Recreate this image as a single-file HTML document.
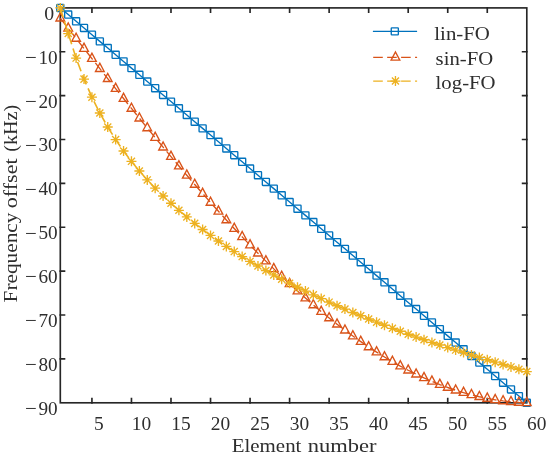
<!DOCTYPE html><html><head><meta charset="utf-8"><title>Frequency offset</title><style>html,body{margin:0;padding:0;background:#fff}</style></head><body><svg width="550" height="457" viewBox="0 0 550 457" style="display:block">
<rect width="550" height="457" fill="#fff"/>
<g stroke="#262626" stroke-width="1.65" fill="none" stroke-linecap="square">
<rect x="60.3" y="7.9" width="466.50" height="394.90"/>
<path d="M91.93 402.8v-4.2M91.93 7.9v4.2"/>
<path d="M131.46 402.8v-4.2M131.46 7.9v4.2"/>
<path d="M170.99 402.8v-4.2M170.99 7.9v4.2"/>
<path d="M210.53 402.8v-4.2M210.53 7.9v4.2"/>
<path d="M250.06 402.8v-4.2M250.06 7.9v4.2"/>
<path d="M289.60 402.8v-4.2M289.60 7.9v4.2"/>
<path d="M329.13 402.8v-4.2M329.13 7.9v4.2"/>
<path d="M368.66 402.8v-4.2M368.66 7.9v4.2"/>
<path d="M408.20 402.8v-4.2M408.20 7.9v4.2"/>
<path d="M447.73 402.8v-4.2M447.73 7.9v4.2"/>
<path d="M487.27 402.8v-4.2M487.27 7.9v4.2"/>
<path d="M60.3 358.92h4.2M526.8 358.92h-4.2"/>
<path d="M60.3 315.04h4.2M526.8 315.04h-4.2"/>
<path d="M60.3 271.17h4.2M526.8 271.17h-4.2"/>
<path d="M60.3 227.29h4.2M526.8 227.29h-4.2"/>
<path d="M60.3 183.41h4.2M526.8 183.41h-4.2"/>
<path d="M60.3 139.53h4.2M526.8 139.53h-4.2"/>
<path d="M60.3 95.66h4.2M526.8 95.66h-4.2"/>
<path d="M60.3 51.78h4.2M526.8 51.78h-4.2"/>
</g>
<g stroke="#0072BD" stroke-width="1.35" fill="none" stroke-linejoin="round">
<polyline points="60.30,7.90 68.21,14.59 76.11,21.29 84.02,27.98 91.93,34.67 99.83,41.37 107.74,48.06 115.65,54.75 123.55,61.45 131.46,68.14 139.37,74.83 147.27,81.53 155.18,88.22 163.09,94.91 170.99,101.61 178.90,108.30 186.81,114.99 194.72,121.68 202.62,128.38 210.53,135.07 218.44,141.76 226.34,148.46 234.25,155.15 242.16,161.84 250.06,168.54 257.97,175.23 265.88,181.92 273.78,188.62 281.69,195.31 289.60,202.00 297.50,208.70 305.41,215.39 313.32,222.08 321.22,228.78 329.13,235.47 337.04,242.16 344.94,248.86 352.85,255.55 360.76,262.24 368.66,268.94 376.57,275.63 384.48,282.32 392.38,289.02 400.29,295.71 408.20,302.40 416.11,309.09 424.01,315.79 431.92,322.48 439.83,329.17 447.73,335.87 455.64,342.56 463.55,349.25 471.45,355.95 479.36,362.64 487.27,369.33 495.17,376.03 503.08,382.72 510.99,389.41 518.89,396.11 526.80,402.80" stroke-width="1.35"/>
<g stroke-width="1.35" stroke-linejoin="miter">
<rect x="56.75" y="4.35" width="7.1" height="7.1" rx="0.6"/>
<rect x="64.66" y="11.04" width="7.1" height="7.1" rx="0.6"/>
<rect x="72.56" y="17.74" width="7.1" height="7.1" rx="0.6"/>
<rect x="80.47" y="24.43" width="7.1" height="7.1" rx="0.6"/>
<rect x="88.38" y="31.12" width="7.1" height="7.1" rx="0.6"/>
<rect x="96.28" y="37.82" width="7.1" height="7.1" rx="0.6"/>
<rect x="104.19" y="44.51" width="7.1" height="7.1" rx="0.6"/>
<rect x="112.10" y="51.20" width="7.1" height="7.1" rx="0.6"/>
<rect x="120.00" y="57.90" width="7.1" height="7.1" rx="0.6"/>
<rect x="127.91" y="64.59" width="7.1" height="7.1" rx="0.6"/>
<rect x="135.82" y="71.28" width="7.1" height="7.1" rx="0.6"/>
<rect x="143.72" y="77.98" width="7.1" height="7.1" rx="0.6"/>
<rect x="151.63" y="84.67" width="7.1" height="7.1" rx="0.6"/>
<rect x="159.54" y="91.36" width="7.1" height="7.1" rx="0.6"/>
<rect x="167.44" y="98.06" width="7.1" height="7.1" rx="0.6"/>
<rect x="175.35" y="104.75" width="7.1" height="7.1" rx="0.6"/>
<rect x="183.26" y="111.44" width="7.1" height="7.1" rx="0.6"/>
<rect x="191.17" y="118.13" width="7.1" height="7.1" rx="0.6"/>
<rect x="199.07" y="124.83" width="7.1" height="7.1" rx="0.6"/>
<rect x="206.98" y="131.52" width="7.1" height="7.1" rx="0.6"/>
<rect x="214.89" y="138.21" width="7.1" height="7.1" rx="0.6"/>
<rect x="222.79" y="144.91" width="7.1" height="7.1" rx="0.6"/>
<rect x="230.70" y="151.60" width="7.1" height="7.1" rx="0.6"/>
<rect x="238.61" y="158.29" width="7.1" height="7.1" rx="0.6"/>
<rect x="246.51" y="164.99" width="7.1" height="7.1" rx="0.6"/>
<rect x="254.42" y="171.68" width="7.1" height="7.1" rx="0.6"/>
<rect x="262.33" y="178.37" width="7.1" height="7.1" rx="0.6"/>
<rect x="270.23" y="185.07" width="7.1" height="7.1" rx="0.6"/>
<rect x="278.14" y="191.76" width="7.1" height="7.1" rx="0.6"/>
<rect x="286.05" y="198.45" width="7.1" height="7.1" rx="0.6"/>
<rect x="293.95" y="205.15" width="7.1" height="7.1" rx="0.6"/>
<rect x="301.86" y="211.84" width="7.1" height="7.1" rx="0.6"/>
<rect x="309.77" y="218.53" width="7.1" height="7.1" rx="0.6"/>
<rect x="317.67" y="225.23" width="7.1" height="7.1" rx="0.6"/>
<rect x="325.58" y="231.92" width="7.1" height="7.1" rx="0.6"/>
<rect x="333.49" y="238.61" width="7.1" height="7.1" rx="0.6"/>
<rect x="341.39" y="245.31" width="7.1" height="7.1" rx="0.6"/>
<rect x="349.30" y="252.00" width="7.1" height="7.1" rx="0.6"/>
<rect x="357.21" y="258.69" width="7.1" height="7.1" rx="0.6"/>
<rect x="365.11" y="265.39" width="7.1" height="7.1" rx="0.6"/>
<rect x="373.02" y="272.08" width="7.1" height="7.1" rx="0.6"/>
<rect x="380.93" y="278.77" width="7.1" height="7.1" rx="0.6"/>
<rect x="388.83" y="285.47" width="7.1" height="7.1" rx="0.6"/>
<rect x="396.74" y="292.16" width="7.1" height="7.1" rx="0.6"/>
<rect x="404.65" y="298.85" width="7.1" height="7.1" rx="0.6"/>
<rect x="412.56" y="305.54" width="7.1" height="7.1" rx="0.6"/>
<rect x="420.46" y="312.24" width="7.1" height="7.1" rx="0.6"/>
<rect x="428.37" y="318.93" width="7.1" height="7.1" rx="0.6"/>
<rect x="436.28" y="325.62" width="7.1" height="7.1" rx="0.6"/>
<rect x="444.18" y="332.32" width="7.1" height="7.1" rx="0.6"/>
<rect x="452.09" y="339.01" width="7.1" height="7.1" rx="0.6"/>
<rect x="460.00" y="345.70" width="7.1" height="7.1" rx="0.6"/>
<rect x="467.90" y="352.40" width="7.1" height="7.1" rx="0.6"/>
<rect x="475.81" y="359.09" width="7.1" height="7.1" rx="0.6"/>
<rect x="483.72" y="365.78" width="7.1" height="7.1" rx="0.6"/>
<rect x="491.62" y="372.48" width="7.1" height="7.1" rx="0.6"/>
<rect x="499.53" y="379.17" width="7.1" height="7.1" rx="0.6"/>
<rect x="507.44" y="385.86" width="7.1" height="7.1" rx="0.6"/>
<rect x="515.34" y="392.56" width="7.1" height="7.1" rx="0.6"/>
<rect x="523.25" y="399.25" width="7.1" height="7.1" rx="0.6"/>
</g></g>
<g stroke="#D95319" stroke-width="1.35" fill="none" stroke-linejoin="round">
<polyline points="60.30,18.24 68.21,28.35 76.11,38.45 84.02,48.54 91.93,58.61 99.83,68.65 107.74,78.66 115.65,88.63 123.55,98.54 131.46,108.41 139.37,118.20 147.27,127.93 155.18,137.59 163.09,147.16 170.99,156.64 178.90,166.02 186.81,175.31 194.72,184.48 202.62,193.54 210.53,202.48 218.44,211.29 226.34,219.96 234.25,228.50 242.16,236.89 250.06,245.12 257.97,253.20 265.88,261.12 273.78,268.87 281.69,276.45 289.60,283.85 297.50,291.06 305.41,298.09 313.32,304.92 321.22,311.55 329.13,317.98 337.04,324.20 344.94,330.22 352.85,336.01 360.76,341.59 368.66,346.94 376.57,352.07 384.48,356.97 392.38,361.63 400.29,366.06 408.20,370.24 416.11,374.19 424.01,377.89 431.92,381.34 439.83,384.54 447.73,387.49 455.64,390.19 463.55,392.63 471.45,394.81 479.36,396.74 487.27,398.40 495.17,399.80 503.08,400.95 510.99,401.83 518.89,402.45 526.80,402.80" stroke-dasharray="9.8 4.4" stroke-width="1.35"/>
<g stroke-width="1.35" stroke-linejoin="miter">
<path d="M55.95 21.04h8.7l-4.35 -8.15z"/>
<path d="M63.86 31.15h8.7l-4.35 -8.15z"/>
<path d="M71.76 41.25h8.7l-4.35 -8.15z"/>
<path d="M79.67 51.34h8.7l-4.35 -8.15z"/>
<path d="M87.58 61.41h8.7l-4.35 -8.15z"/>
<path d="M95.48 71.45h8.7l-4.35 -8.15z"/>
<path d="M103.39 81.46h8.7l-4.35 -8.15z"/>
<path d="M111.30 91.43h8.7l-4.35 -8.15z"/>
<path d="M119.20 101.34h8.7l-4.35 -8.15z"/>
<path d="M127.11 111.21h8.7l-4.35 -8.15z"/>
<path d="M135.02 121.00h8.7l-4.35 -8.15z"/>
<path d="M142.92 130.73h8.7l-4.35 -8.15z"/>
<path d="M150.83 140.39h8.7l-4.35 -8.15z"/>
<path d="M158.74 149.96h8.7l-4.35 -8.15z"/>
<path d="M166.64 159.44h8.7l-4.35 -8.15z"/>
<path d="M174.55 168.82h8.7l-4.35 -8.15z"/>
<path d="M182.46 178.11h8.7l-4.35 -8.15z"/>
<path d="M190.37 187.28h8.7l-4.35 -8.15z"/>
<path d="M198.27 196.34h8.7l-4.35 -8.15z"/>
<path d="M206.18 205.28h8.7l-4.35 -8.15z"/>
<path d="M214.09 214.09h8.7l-4.35 -8.15z"/>
<path d="M221.99 222.76h8.7l-4.35 -8.15z"/>
<path d="M229.90 231.30h8.7l-4.35 -8.15z"/>
<path d="M237.81 239.69h8.7l-4.35 -8.15z"/>
<path d="M245.71 247.92h8.7l-4.35 -8.15z"/>
<path d="M253.62 256.00h8.7l-4.35 -8.15z"/>
<path d="M261.53 263.92h8.7l-4.35 -8.15z"/>
<path d="M269.43 271.67h8.7l-4.35 -8.15z"/>
<path d="M277.34 279.25h8.7l-4.35 -8.15z"/>
<path d="M285.25 286.65h8.7l-4.35 -8.15z"/>
<path d="M293.15 293.86h8.7l-4.35 -8.15z"/>
<path d="M301.06 300.89h8.7l-4.35 -8.15z"/>
<path d="M308.97 307.72h8.7l-4.35 -8.15z"/>
<path d="M316.87 314.35h8.7l-4.35 -8.15z"/>
<path d="M324.78 320.78h8.7l-4.35 -8.15z"/>
<path d="M332.69 327.00h8.7l-4.35 -8.15z"/>
<path d="M340.59 333.02h8.7l-4.35 -8.15z"/>
<path d="M348.50 338.81h8.7l-4.35 -8.15z"/>
<path d="M356.41 344.39h8.7l-4.35 -8.15z"/>
<path d="M364.31 349.74h8.7l-4.35 -8.15z"/>
<path d="M372.22 354.87h8.7l-4.35 -8.15z"/>
<path d="M380.13 359.77h8.7l-4.35 -8.15z"/>
<path d="M388.03 364.43h8.7l-4.35 -8.15z"/>
<path d="M395.94 368.86h8.7l-4.35 -8.15z"/>
<path d="M403.85 373.04h8.7l-4.35 -8.15z"/>
<path d="M411.76 376.99h8.7l-4.35 -8.15z"/>
<path d="M419.66 380.69h8.7l-4.35 -8.15z"/>
<path d="M427.57 384.14h8.7l-4.35 -8.15z"/>
<path d="M435.48 387.34h8.7l-4.35 -8.15z"/>
<path d="M443.38 390.29h8.7l-4.35 -8.15z"/>
<path d="M451.29 392.99h8.7l-4.35 -8.15z"/>
<path d="M459.20 395.43h8.7l-4.35 -8.15z"/>
<path d="M467.10 397.61h8.7l-4.35 -8.15z"/>
<path d="M475.01 399.54h8.7l-4.35 -8.15z"/>
<path d="M482.92 401.20h8.7l-4.35 -8.15z"/>
<path d="M490.82 402.60h8.7l-4.35 -8.15z"/>
<path d="M498.73 403.75h8.7l-4.35 -8.15z"/>
<path d="M506.64 404.63h8.7l-4.35 -8.15z"/>
<path d="M514.54 405.25h8.7l-4.35 -8.15z"/>
<path d="M522.45 405.60h8.7l-4.35 -8.15z"/>
</g></g>
<g stroke="#EDB120" stroke-width="1.35" fill="none" stroke-linejoin="round">
<polyline points="60.30,7.90 68.21,33.57 76.11,58.10 84.02,79.11 91.93,97.19 99.83,113.03 107.74,126.98 115.65,139.58 123.55,150.99 131.46,161.34 139.37,170.95 147.27,179.90 155.18,188.19 163.09,196.00 170.99,203.29 178.90,210.31 186.81,216.93 194.72,223.38 202.62,229.48 210.53,235.41 218.44,241.02 226.34,246.42 234.25,251.60 242.16,256.60 250.06,261.43 257.97,266.03 265.88,270.55 273.78,274.90 281.69,279.15 289.60,283.19 297.50,287.23 305.41,291.09 313.32,294.86 321.22,298.55 329.13,302.14 337.04,305.70 344.94,309.12 352.85,312.46 360.76,315.75 368.66,318.99 376.57,322.15 384.48,325.27 392.38,328.30 400.29,331.28 408.20,334.22 416.11,337.07 424.01,339.79 431.92,342.42 439.83,345.01 447.73,347.60 455.64,350.10 463.55,352.60 471.45,355.02 479.36,357.43 487.27,359.76 495.17,362.13 503.08,364.49 510.99,366.91 518.89,369.23 526.80,371.56" stroke-dasharray="9.8 4.4" stroke-width="1.6"/>
<g stroke-width="1.35" stroke-linejoin="miter">
<path d="M55.30 7.90h10.0M60.30 2.90v10.0M56.76 4.36l7.07 7.07M56.76 11.44l7.07 -7.07"/>
<path d="M63.21 33.57h10.0M68.21 28.57v10.0M64.67 30.03l7.07 7.07M64.67 37.10l7.07 -7.07"/>
<path d="M71.11 58.10h10.0M76.11 53.10v10.0M72.58 54.56l7.07 7.07M72.58 61.63l7.07 -7.07"/>
<path d="M79.02 79.11h10.0M84.02 74.11v10.0M80.48 75.58l7.07 7.07M80.48 82.65l7.07 -7.07"/>
<path d="M86.93 97.19h10.0M91.93 92.19v10.0M88.39 93.66l7.07 7.07M88.39 100.73l7.07 -7.07"/>
<path d="M94.83 113.03h10.0M99.83 108.03v10.0M96.30 109.50l7.07 7.07M96.30 116.57l7.07 -7.07"/>
<path d="M102.74 126.98h10.0M107.74 121.98v10.0M104.21 123.45l7.07 7.07M104.21 130.52l7.07 -7.07"/>
<path d="M110.65 139.58h10.0M115.65 134.58v10.0M112.11 136.04l7.07 7.07M112.11 143.11l7.07 -7.07"/>
<path d="M118.55 150.99h10.0M123.55 145.99v10.0M120.02 147.45l7.07 7.07M120.02 154.52l7.07 -7.07"/>
<path d="M126.46 161.34h10.0M131.46 156.34v10.0M127.93 157.81l7.07 7.07M127.93 164.88l7.07 -7.07"/>
<path d="M134.37 170.95h10.0M139.37 165.95v10.0M135.83 167.41l7.07 7.07M135.83 174.49l7.07 -7.07"/>
<path d="M142.27 179.90h10.0M147.27 174.90v10.0M143.74 176.37l7.07 7.07M143.74 183.44l7.07 -7.07"/>
<path d="M150.18 188.19h10.0M155.18 183.19v10.0M151.65 184.66l7.07 7.07M151.65 191.73l7.07 -7.07"/>
<path d="M158.09 196.00h10.0M163.09 191.00v10.0M159.55 192.47l7.07 7.07M159.55 199.54l7.07 -7.07"/>
<path d="M165.99 203.29h10.0M170.99 198.29v10.0M167.46 199.75l7.07 7.07M167.46 206.82l7.07 -7.07"/>
<path d="M173.90 210.31h10.0M178.90 205.31v10.0M175.37 206.77l7.07 7.07M175.37 213.84l7.07 -7.07"/>
<path d="M181.81 216.93h10.0M186.81 211.93v10.0M183.27 213.40l7.07 7.07M183.27 220.47l7.07 -7.07"/>
<path d="M189.72 223.38h10.0M194.72 218.38v10.0M191.18 219.85l7.07 7.07M191.18 226.92l7.07 -7.07"/>
<path d="M197.62 229.48h10.0M202.62 224.48v10.0M199.09 225.95l7.07 7.07M199.09 233.02l7.07 -7.07"/>
<path d="M205.53 235.41h10.0M210.53 230.41v10.0M206.99 231.87l7.07 7.07M206.99 238.94l7.07 -7.07"/>
<path d="M213.44 241.02h10.0M218.44 236.02v10.0M214.90 237.49l7.07 7.07M214.90 244.56l7.07 -7.07"/>
<path d="M221.34 246.42h10.0M226.34 241.42v10.0M222.81 242.88l7.07 7.07M222.81 249.96l7.07 -7.07"/>
<path d="M229.25 251.60h10.0M234.25 246.60v10.0M230.71 248.06l7.07 7.07M230.71 255.13l7.07 -7.07"/>
<path d="M237.16 256.60h10.0M242.16 251.60v10.0M238.62 253.06l7.07 7.07M238.62 260.13l7.07 -7.07"/>
<path d="M245.06 261.43h10.0M250.06 256.43v10.0M246.53 257.89l7.07 7.07M246.53 264.96l7.07 -7.07"/>
<path d="M252.97 266.03h10.0M257.97 261.03v10.0M254.43 262.50l7.07 7.07M254.43 269.57l7.07 -7.07"/>
<path d="M260.88 270.55h10.0M265.88 265.55v10.0M262.34 267.02l7.07 7.07M262.34 274.09l7.07 -7.07"/>
<path d="M268.78 274.90h10.0M273.78 269.90v10.0M270.25 271.36l7.07 7.07M270.25 278.43l7.07 -7.07"/>
<path d="M276.69 279.15h10.0M281.69 274.15v10.0M278.15 275.62l7.07 7.07M278.15 282.69l7.07 -7.07"/>
<path d="M284.60 283.19h10.0M289.60 278.19v10.0M286.06 279.65l7.07 7.07M286.06 286.72l7.07 -7.07"/>
<path d="M292.50 287.23h10.0M297.50 282.23v10.0M293.97 283.69l7.07 7.07M293.97 290.76l7.07 -7.07"/>
<path d="M300.41 291.09h10.0M305.41 286.09v10.0M301.87 287.55l7.07 7.07M301.87 294.62l7.07 -7.07"/>
<path d="M308.32 294.86h10.0M313.32 289.86v10.0M309.78 291.33l7.07 7.07M309.78 298.40l7.07 -7.07"/>
<path d="M316.22 298.55h10.0M321.22 293.55v10.0M317.69 295.01l7.07 7.07M317.69 302.08l7.07 -7.07"/>
<path d="M324.13 302.14h10.0M329.13 297.14v10.0M325.59 298.61l7.07 7.07M325.59 305.68l7.07 -7.07"/>
<path d="M332.04 305.70h10.0M337.04 300.70v10.0M333.50 302.16l7.07 7.07M333.50 309.23l7.07 -7.07"/>
<path d="M339.94 309.12h10.0M344.94 304.12v10.0M341.41 305.59l7.07 7.07M341.41 312.66l7.07 -7.07"/>
<path d="M347.85 312.46h10.0M352.85 307.46v10.0M349.32 308.92l7.07 7.07M349.32 315.99l7.07 -7.07"/>
<path d="M355.76 315.75h10.0M360.76 310.75v10.0M357.22 312.21l7.07 7.07M357.22 319.28l7.07 -7.07"/>
<path d="M363.66 318.99h10.0M368.66 313.99v10.0M365.13 315.46l7.07 7.07M365.13 322.53l7.07 -7.07"/>
<path d="M371.57 322.15h10.0M376.57 317.15v10.0M373.04 318.62l7.07 7.07M373.04 325.69l7.07 -7.07"/>
<path d="M379.48 325.27h10.0M384.48 320.27v10.0M380.94 321.73l7.07 7.07M380.94 328.80l7.07 -7.07"/>
<path d="M387.38 328.30h10.0M392.38 323.30v10.0M388.85 324.76l7.07 7.07M388.85 331.83l7.07 -7.07"/>
<path d="M395.29 331.28h10.0M400.29 326.28v10.0M396.76 327.74l7.07 7.07M396.76 334.81l7.07 -7.07"/>
<path d="M403.20 334.22h10.0M408.20 329.22v10.0M404.66 330.68l7.07 7.07M404.66 337.75l7.07 -7.07"/>
<path d="M411.11 337.07h10.0M416.11 332.07v10.0M412.57 333.54l7.07 7.07M412.57 340.61l7.07 -7.07"/>
<path d="M419.01 339.79h10.0M424.01 334.79v10.0M420.48 336.26l7.07 7.07M420.48 343.33l7.07 -7.07"/>
<path d="M426.92 342.42h10.0M431.92 337.42v10.0M428.38 338.89l7.07 7.07M428.38 345.96l7.07 -7.07"/>
<path d="M434.83 345.01h10.0M439.83 340.01v10.0M436.29 341.48l7.07 7.07M436.29 348.55l7.07 -7.07"/>
<path d="M442.73 347.60h10.0M447.73 342.60v10.0M444.20 344.07l7.07 7.07M444.20 351.14l7.07 -7.07"/>
<path d="M450.64 350.10h10.0M455.64 345.10v10.0M452.10 346.57l7.07 7.07M452.10 353.64l7.07 -7.07"/>
<path d="M458.55 352.60h10.0M463.55 347.60v10.0M460.01 349.07l7.07 7.07M460.01 356.14l7.07 -7.07"/>
<path d="M466.45 355.02h10.0M471.45 350.02v10.0M467.92 351.48l7.07 7.07M467.92 358.55l7.07 -7.07"/>
<path d="M474.36 357.43h10.0M479.36 352.43v10.0M475.82 353.89l7.07 7.07M475.82 360.97l7.07 -7.07"/>
<path d="M482.27 359.76h10.0M487.27 354.76v10.0M483.73 356.22l7.07 7.07M483.73 363.29l7.07 -7.07"/>
<path d="M490.17 362.13h10.0M495.17 357.13v10.0M491.64 358.59l7.07 7.07M491.64 365.66l7.07 -7.07"/>
<path d="M498.08 364.49h10.0M503.08 359.49v10.0M499.54 360.96l7.07 7.07M499.54 368.03l7.07 -7.07"/>
<path d="M505.99 366.91h10.0M510.99 361.91v10.0M507.45 363.37l7.07 7.07M507.45 370.44l7.07 -7.07"/>
<path d="M513.89 369.23h10.0M518.89 364.23v10.0M515.36 365.70l7.07 7.07M515.36 372.77l7.07 -7.07"/>
<path d="M521.80 371.56h10.0M526.80 366.56v10.0M523.26 368.02l7.07 7.07M523.26 375.09l7.07 -7.07"/>
</g></g>
<g stroke="#0072BD" stroke-width="1.35" fill="none"><path d="M372.9 31.35H417.1"/><g stroke-width="1.35"><rect x="391.25" y="27.80" width="7.1" height="7.1" rx="0.6"/></g></g>
<g stroke="#D95319" stroke-width="1.35" fill="none"><path d="M373.2 57.3H417.1" stroke-dasharray="9.6 4.35"/><g stroke-width="1.35"><path d="M391.10 60.10h8.7l-4.35 -8.15z"/></g></g>
<g stroke="#EDB120" stroke-width="1.35" fill="none"><path d="M373.2 81.05H417.1" stroke-dasharray="9.6 4.35"/><g stroke-width="1.35"><path d="M390.45 81.05h10.0M395.45 76.05v10.0M391.91 77.51l7.07 7.07M391.91 84.59l7.07 -7.07"/></g></g>
<g font-family="'Liberation Serif', 'DejaVu Serif', serif" font-size="19.3" fill="#2e2e2e">
<text x="434.3" y="40.1" textLength="55.6" lengthAdjust="spacingAndGlyphs" font-size="18.8">lin-FO</text>
<text x="435.6" y="64.9" textLength="57.5" lengthAdjust="spacingAndGlyphs" font-size="18.8">sin-FO</text>
<text x="435.6" y="89.3" textLength="60.0" lengthAdjust="spacingAndGlyphs" font-size="18.8">log-FO</text>
<text x="94.1" y="429.9" textLength="9.7" lengthAdjust="spacingAndGlyphs">5</text>
<text x="131.7" y="429.9" textLength="19.4" lengthAdjust="spacingAndGlyphs">10</text>
<text x="171.2" y="429.9" textLength="19.4" lengthAdjust="spacingAndGlyphs">15</text>
<text x="210.7" y="429.9" textLength="19.4" lengthAdjust="spacingAndGlyphs">20</text>
<text x="250.3" y="429.9" textLength="19.4" lengthAdjust="spacingAndGlyphs">25</text>
<text x="289.8" y="429.9" textLength="19.4" lengthAdjust="spacingAndGlyphs">30</text>
<text x="329.3" y="429.9" textLength="19.4" lengthAdjust="spacingAndGlyphs">35</text>
<text x="368.9" y="429.9" textLength="19.4" lengthAdjust="spacingAndGlyphs">40</text>
<text x="408.4" y="429.9" textLength="19.4" lengthAdjust="spacingAndGlyphs">45</text>
<text x="447.9" y="429.9" textLength="19.4" lengthAdjust="spacingAndGlyphs">50</text>
<text x="487.5" y="429.9" textLength="19.4" lengthAdjust="spacingAndGlyphs">55</text>
<text x="527.0" y="429.9" textLength="19.4" lengthAdjust="spacingAndGlyphs">60</text>
<text x="44.2" y="19.9" textLength="9.9" lengthAdjust="spacingAndGlyphs" font-size="19.8">0</text>
<text font-size="19.8"><tspan x="25.1" y="415.0" textLength="11.8" lengthAdjust="spacingAndGlyphs">−</tspan><tspan x="38.5" y="414.7" textLength="19.2" lengthAdjust="spacingAndGlyphs">90</tspan></text>
<text font-size="19.8"><tspan x="25.1" y="371.1" textLength="11.8" lengthAdjust="spacingAndGlyphs">−</tspan><tspan x="38.5" y="370.8" textLength="19.2" lengthAdjust="spacingAndGlyphs">80</tspan></text>
<text font-size="19.8"><tspan x="25.1" y="327.2" textLength="11.8" lengthAdjust="spacingAndGlyphs">−</tspan><tspan x="38.5" y="326.9" textLength="19.2" lengthAdjust="spacingAndGlyphs">70</tspan></text>
<text font-size="19.8"><tspan x="25.1" y="283.4" textLength="11.8" lengthAdjust="spacingAndGlyphs">−</tspan><tspan x="38.5" y="283.1" textLength="19.2" lengthAdjust="spacingAndGlyphs">60</tspan></text>
<text font-size="19.8"><tspan x="25.1" y="239.5" textLength="11.8" lengthAdjust="spacingAndGlyphs">−</tspan><tspan x="38.5" y="239.2" textLength="19.2" lengthAdjust="spacingAndGlyphs">50</tspan></text>
<text font-size="19.8"><tspan x="25.1" y="195.6" textLength="11.8" lengthAdjust="spacingAndGlyphs">−</tspan><tspan x="38.5" y="195.3" textLength="19.2" lengthAdjust="spacingAndGlyphs">40</tspan></text>
<text font-size="19.8"><tspan x="25.1" y="151.7" textLength="11.8" lengthAdjust="spacingAndGlyphs">−</tspan><tspan x="38.5" y="151.4" textLength="19.2" lengthAdjust="spacingAndGlyphs">30</tspan></text>
<text font-size="19.8"><tspan x="25.1" y="107.9" textLength="11.8" lengthAdjust="spacingAndGlyphs">−</tspan><tspan x="38.5" y="107.6" textLength="19.2" lengthAdjust="spacingAndGlyphs">20</tspan></text>
<text font-size="19.8"><tspan x="25.1" y="64.0" textLength="11.8" lengthAdjust="spacingAndGlyphs">−</tspan><tspan x="38.5" y="63.7" textLength="19.2" lengthAdjust="spacingAndGlyphs">10</tspan></text>
<text font-size="18.8" y="451.6"><tspan x="231.8" textLength="69.6" lengthAdjust="spacingAndGlyphs">Element</tspan> <tspan x="307.7" textLength="68.8" lengthAdjust="spacingAndGlyphs">number</tspan></text>
<text font-size="18.8" transform="translate(17.2 302.4) rotate(-90)" y="0"><tspan x="0" textLength="89.8" lengthAdjust="spacingAndGlyphs">Frequency</tspan> <tspan x="94.2" textLength="49.8" lengthAdjust="spacingAndGlyphs">offset</tspan> <tspan x="150.6" textLength="47.0" lengthAdjust="spacingAndGlyphs">(kHz)</tspan></text>
</g></svg></body></html>
